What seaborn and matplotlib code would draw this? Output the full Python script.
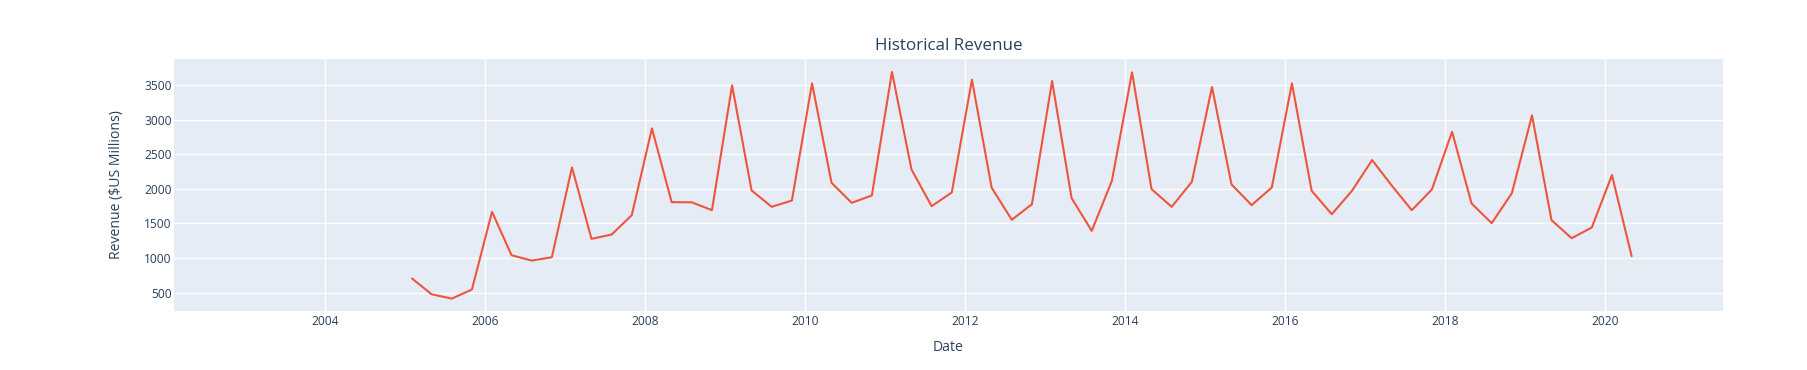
import matplotlib
matplotlib.use("Agg")
import matplotlib.pyplot as plt
import matplotlib.dates as mdates
import seaborn as sns
import pandas as pd

# ---- data ----
dates = pd.date_range("2005-01-31", "2020-04-30", freq="3ME")
revenue = [
    703, 476, 413, 544,
    1667, 1040, 963, 1011,
    2309, 1277, 1339, 1619,
    2873, 1807, 1805, 1691,
    3495, 1976, 1740, 1831,
    3524, 2087, 1797, 1904,
    3688, 2280, 1749, 1947,
    3577, 2015, 1552, 1778,
    3558, 1865, 1392, 2116,
    3683, 1995, 1740, 2101,
    3471, 2063, 1764, 2019,
    3524, 1971, 1633, 1971,
    2415, 2050, 1691, 1990,
    2825, 1788, 1503, 1937,
    3061, 1547, 1286, 1441,
    2198, 1026,
]
x_tick_years = [2004, 2006, 2008, 2010, 2012, 2014, 2016, 2018, 2020]
y_ticks = [500, 1000, 1500, 2000, 2500, 3000, 3500]
title = "Historical Revenue"
x_label = "Date"
y_label = "Revenue ($US Millions)"

df = pd.DataFrame({"Date": dates, "Revenue": revenue})

sns.set_theme(style="white")
plt.rcParams["font.family"] = ["Open Sans", "DejaVu Sans"]

TEXT = "#2a3f5f"
W, H = 1807, 370
fig = plt.figure(figsize=(W / 100, H / 100), dpi=100)
fig.patch.set_facecolor("white")

left, right, top, bottom = 174, 1723, 59, 311
ax = fig.add_axes([left / W, 1 - bottom / H, (right - left) / W, (bottom - top) / H])
ax.set_facecolor("#E5ECF6")

sns.lineplot(data=df, x="Date", y="Revenue", ax=ax, color="#EF553B", linewidth=1.5)

ax.set_xlim(pd.Timestamp("2002-02-09"), pd.Timestamp("2021-06-21"))
ax.set_ylim(234, 3876)

ax.set_xticks([pd.Timestamp(f"{y}-01-01") for y in x_tick_years])
ax.xaxis.set_major_formatter(mdates.DateFormatter("%Y"))
ax.set_yticks(y_ticks)
ax.set_yticklabels([str(v) for v in y_ticks])

ax.grid(True, color="white", linewidth=1.0)
ax.set_axisbelow(True)
for s in ax.spines.values():
    s.set_visible(False)
ax.tick_params(axis="both", length=0, labelsize=8.64, labelcolor=TEXT)
ax.tick_params(axis="x", pad=3)
ax.tick_params(axis="y", pad=1.5)

ax.set_xlabel(x_label, fontsize=10.08, color=TEXT)
ax.set_ylabel(y_label, fontsize=10.08, color=TEXT)
ax.xaxis.set_label_coords((948 - left) / (right - left), (bottom - 347.7) / (bottom - top))
ax.xaxis.label.set_va("center")
ax.yaxis.set_label_coords((116.7 - left) / (right - left), 0.5)
ax.yaxis.label.set_va("center")

fig.text(949 / W, 1 - 45.7 / H, title, ha="center", va="center", fontsize=12.24, color=TEXT)

fig.savefig("out.png", dpi=100, facecolor="white")
